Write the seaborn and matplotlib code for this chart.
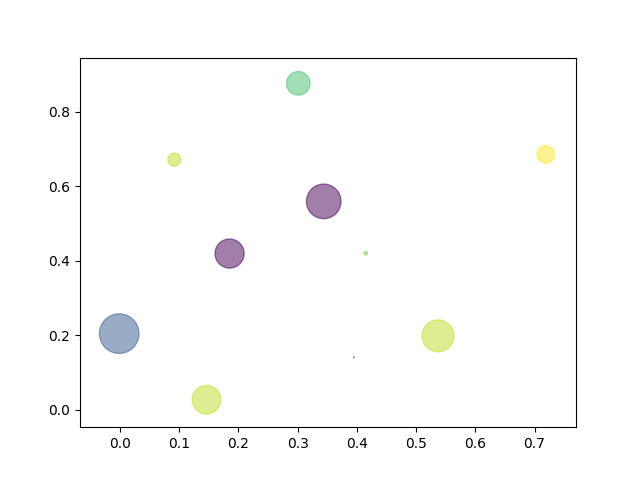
import matplotlib
matplotlib.use('Agg')
import matplotlib.pyplot as plt
import seaborn as sns
import pandas as pd

# values
x_vals = [-0.0014, 0.146, 0.185, 0.0916, 0.301, 0.344, 0.395, 0.415, 0.537, 0.719]
y_vals = [0.205, 0.0277, 0.420, 0.672, 0.877, 0.560, 0.1415, 0.421, 0.199, 0.686]
colour_vals = [0.28, 0.90, 0.0, 0.90, 0.71, 0.0, 0.05, 0.80, 0.90, 1.0]
area_vals = [812, 424, 439, 88, 289, 621, 0.3, 6.7, 528, 161]

df = pd.DataFrame({'x': x_vals, 'y': y_vals, 'c': colour_vals})

fig, ax = plt.subplots(figsize=(6.4, 4.8), dpi=100)
sns.scatterplot(data=df, x='x', y='y', hue='c', palette='viridis', hue_norm=(0, 1),
                s=area_vals, alpha=0.5, edgecolor='face', linewidth=1.0,
                legend=False, ax=ax)
ax.set_xlim(-0.0676, 0.770)
ax.set_ylim(-0.0462, 0.946)
ax.set_xlabel('')
ax.set_ylabel('')

fig.savefig('out.png')
